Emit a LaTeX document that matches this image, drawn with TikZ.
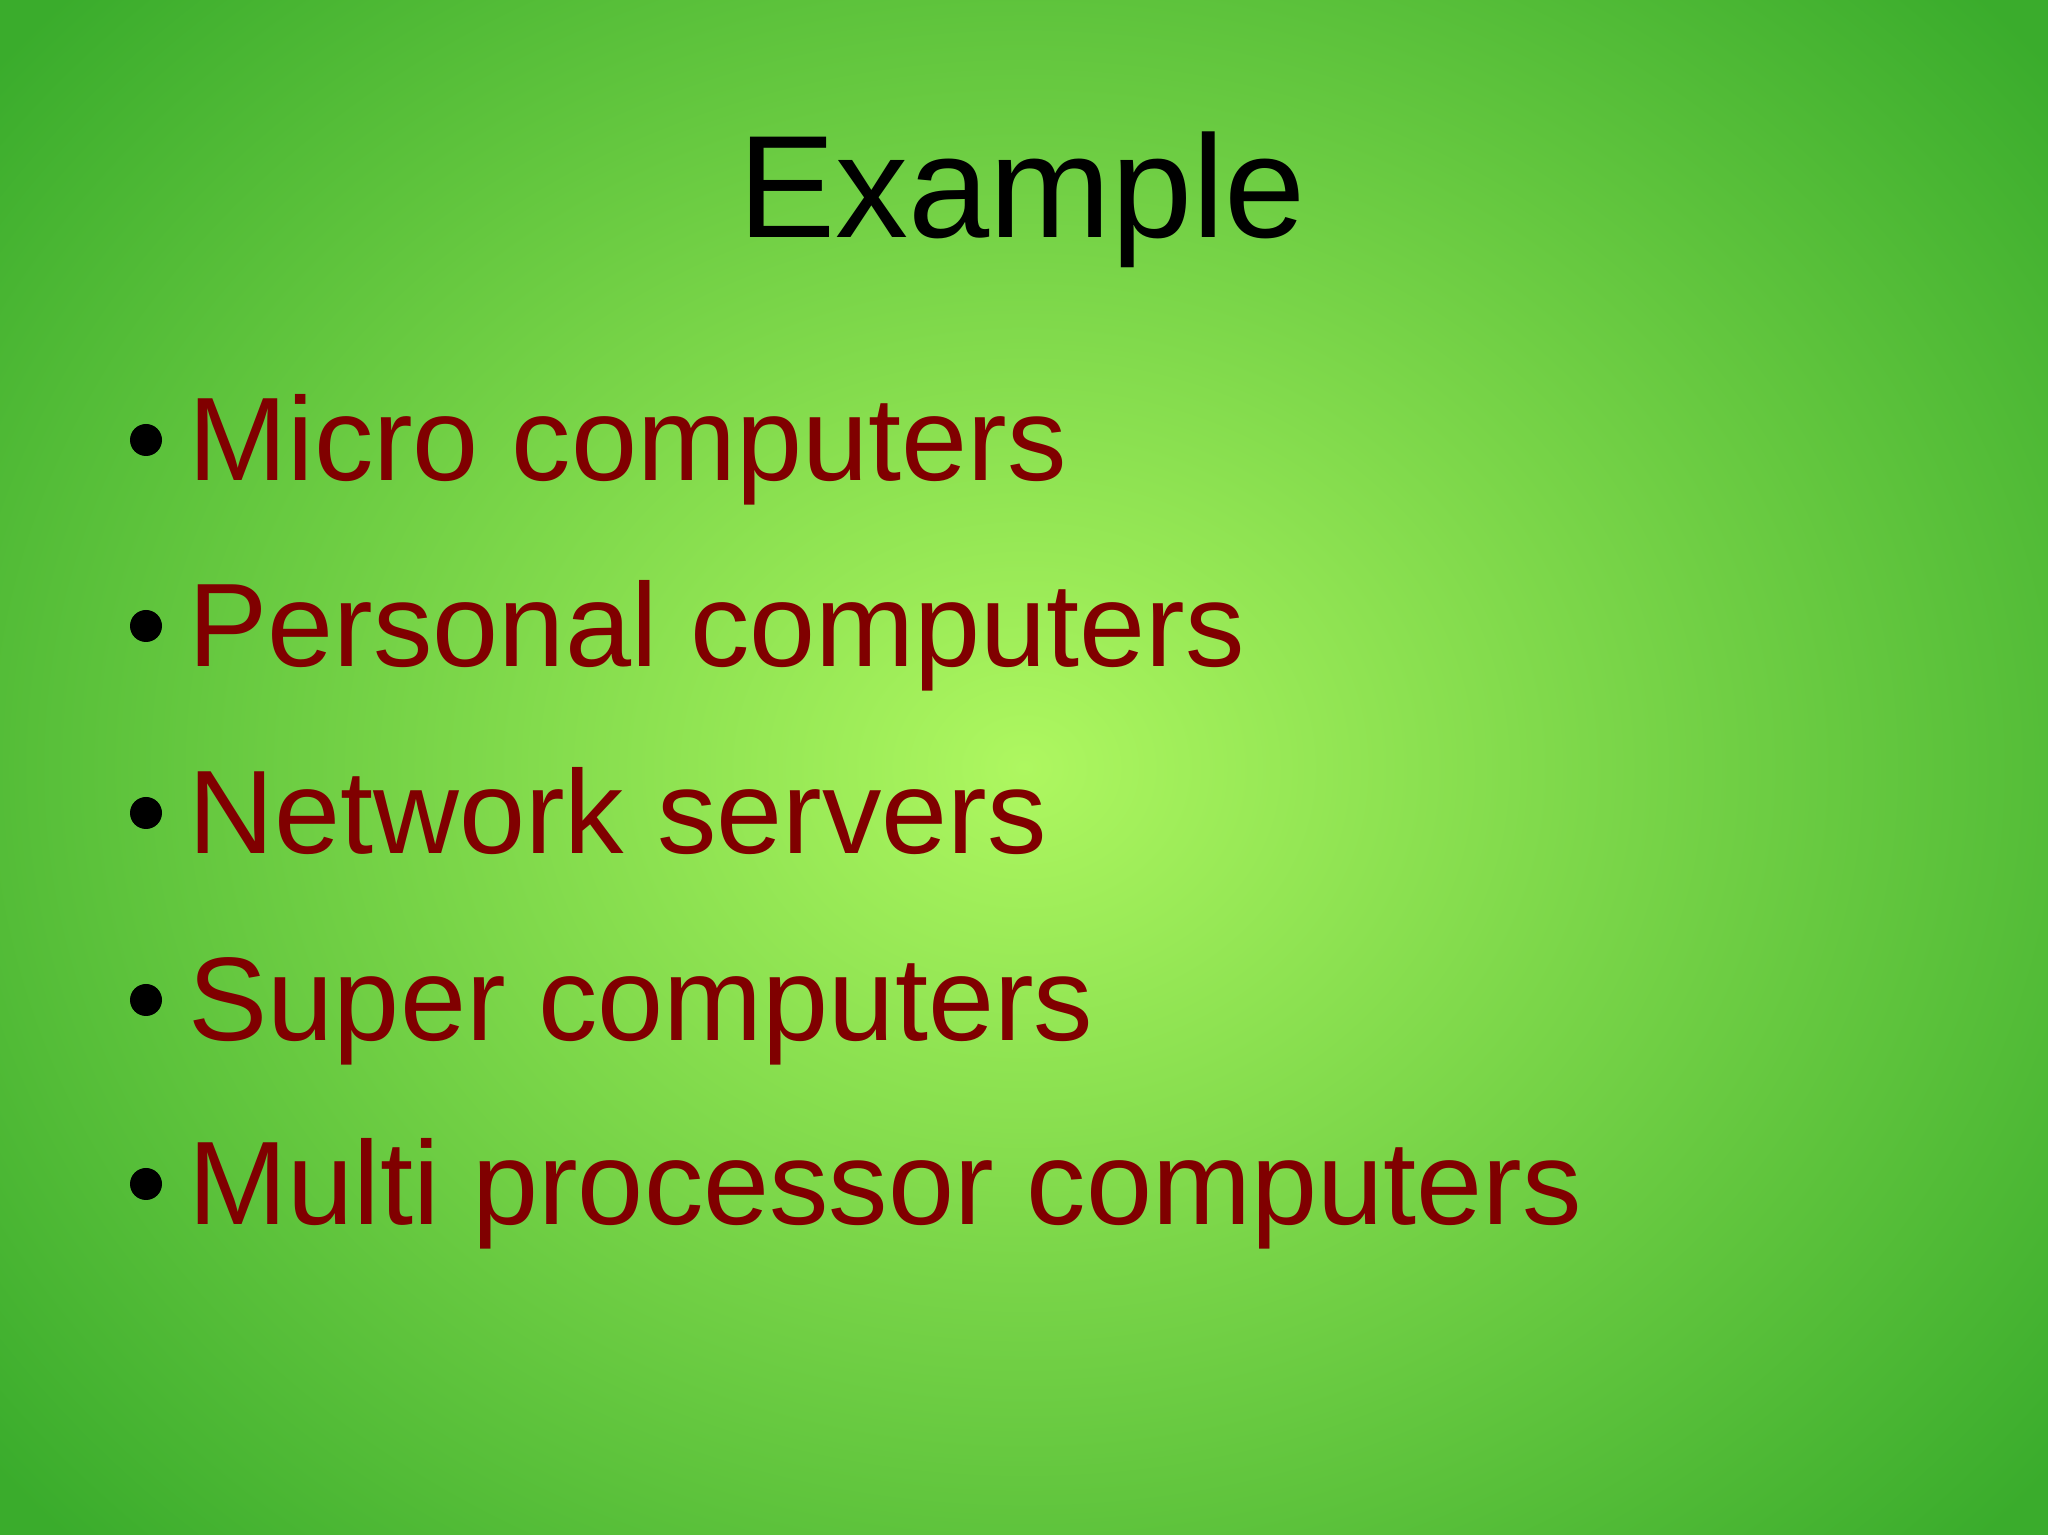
\documentclass[tikz,border=0pt]{standalone}
\usepackage{fontspec}
\setmainfont{Liberation Sans}
\definecolor{darkred}{HTML}{800000}
\definecolor{inner}{HTML}{AEF760}
\definecolor{outer}{HTML}{3AAC2C}
\begin{document}
\begin{tikzpicture}[
  item/.style={anchor=base west, inner sep=0pt, text=darkred, font=\fontsize{33.8}{40}\selectfont},
  dot/.style={circle, fill=black, inner sep=0pt, minimum size=0.32cm}]
\useasboundingbox (0,0) rectangle (20.48,15.35);
\shade[inner color=inner, outer color=outer] (-3,-3.5) rectangle (23.48,18.85);
\node[anchor=base, inner sep=0pt, font=\fontsize{41.5}{50}\selectfont] (title) at (10.22,12.97) {Example};
\foreach \t/\y [count=\i] in {Micro computers/10.54, Personal computers/8.68, Network servers/6.81, Super computers/4.94, Multi processor computers/3.10}{
  \node[item] (it\i) at (1.88,\y) {\t};
  \node[dot] (b\i) at (1.46,\y+0.41) {};
}
\end{tikzpicture}
\end{document}
